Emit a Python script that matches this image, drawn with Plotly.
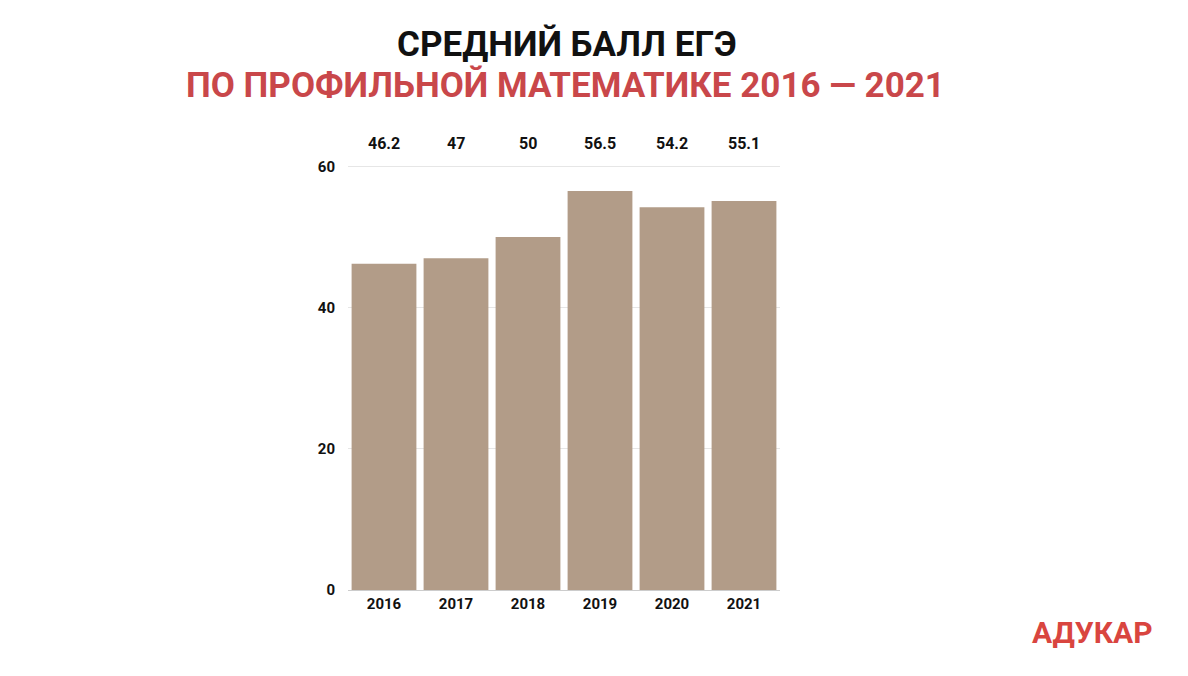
import plotly.graph_objects as go

years = ["2016", "2017", "2018", "2019", "2020", "2021"]
scores = [46.2, 47, 50, 56.5, 54.2, 55.1]
labels = ["46.2", "47", "50", "56.5", "54.2", "55.1"]
yticks = [0, 20, 40, 60]
pos = list(range(len(years)))

L, R, T, B = 340, 416, 157, 94
W = 1188 - L - R
H = 676 - T - B

def px(x):
    return (x - 8 - L) / W

def py(y):
    return (676 - B - (y - 8)) / H

fig = go.Figure(go.Bar(x=pos, y=scores, marker_color="#b29c88", marker_line_width=0))

for p, lb in zip(pos, labels):
    fig.add_annotation(x=p, xref="x", y=py(143), yref="paper", yanchor="middle",
                       text="<b>" + lb + "</b>", showarrow=False,
                       font=dict(family="Roboto", size=16, color="#111111"))

fig.add_annotation(x=px(567), y=py(45), xref="paper", yref="paper", xanchor="center", yanchor="middle",
                   text="<b>СРЕДНИЙ БАЛЛ ЕГЭ</b>", showarrow=False,
                   font=dict(family="Roboto", size=35, color="#111111"))
fig.add_annotation(x=px(565), y=py(85), xref="paper", yref="paper", xanchor="center", yanchor="middle",
                   text="<b>ПО ПРОФИЛЬНОЙ МАТЕМАТИКЕ 2016 — 2021</b>", showarrow=False,
                   font=dict(family="Roboto", size=35, color="#c9474a"))
fig.add_annotation(x=px(1092), y=py(632), xref="paper", yref="paper", xanchor="center", yanchor="middle",
                   text="<b>АДУКАР</b>", showarrow=False,
                   font=dict(family="Roboto", size=30, color="#d9453f"))

fig.update_layout(
    width=1188, height=676,
    margin=dict(l=L, r=R, t=T, b=B),
    paper_bgcolor="white", plot_bgcolor="white",
    bargap=0.1, showlegend=False,
    font=dict(family="Roboto", color="#111111"),
)
fig.update_yaxes(range=[0, 60.2], tickvals=yticks, showgrid=True, gridcolor="#e6e6e6",
                 zeroline=False, tickfont=dict(size=15, family="Roboto", weight="bold"), ticks="",
                 ticklabelstandoff=12)
fig.update_xaxes(range=[-0.5, len(years) - 0.5], tickvals=pos, ticktext=years,
                 showgrid=False, zeroline=False, showline=True, linecolor="#cccccc",
                 tickfont=dict(size=15, family="Roboto", weight="bold"))

fig.write_html("out.html")
